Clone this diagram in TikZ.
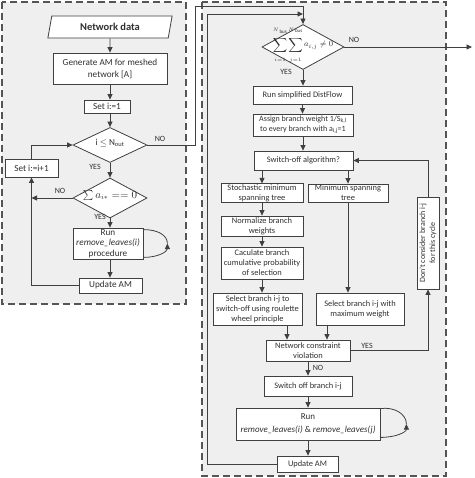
\documentclass[tikz,border=0pt]{standalone}
\usepackage{fontspec}
\setmainfont{Carlito}
\usetikzlibrary{arrows.meta,shapes.geometric,calc}
\definecolor{lnc}{HTML}{404040}
\definecolor{pan}{HTML}{EFEFEF}
\definecolor{dsh}{HTML}{555555}
\definecolor{txt}{HTML}{303030}
\newcommand{\flatbox}[1]{\smash{\makebox[0pt]{$\vcenter{\hbox{#1}}$}}}
\newcommand{\sumstack}[1]{\vcenter{\hbox{\shortstack{$\scriptscriptstyle {N\kern0.8pt}_{\mathrm{bus}}$\\[1.5pt]$\displaystyle\sum$\\[1.5pt]$\scriptscriptstyle #1=1$}}}}
\begin{document}
\begin{tikzpicture}[x=1pt,y=-1pt,
  box/.style={draw=lnc, line width=0.8pt, fill=white, align=center, inner sep=0.5pt, text=txt},
  lbox/.style={box, font=\fontsize{9.2}{12}\selectfont},
  rbox/.style={box, font=\fontsize{8.4}{10}\selectfont},
  dia/.style={diamond, draw=lnc, line width=0.8pt, fill=white, inner sep=0pt, aspect=1.8, text=txt},
  arr/.style={draw=lnc, line width=0.8pt, -{Triangle[length=5.5pt,width=5pt]}},
  lin/.style={draw=lnc, line width=0.8pt},
  lab/.style={font=\fontsize{8}{9}\selectfont, inner sep=0pt, text=txt},
  panel/.style={draw=dsh, line width=1.2pt, dash pattern=on 7pt off 4pt}
]
\useasboundingbox (0,0) rectangle (474,478);
% panels
\fill[pan] (2,2) rectangle (186,304);
\draw[panel] (2,2) rectangle (186,304);
\fill[pan] (202,2) rectangle (446,476);
\draw[panel] (202,2) rectangle (446,476);

% ---------------- left panel ----------------
\node[trapezium, trapezium left angle=75, trapezium right angle=105, trapezium stretches=true,
      minimum width=125, minimum height=22, draw=lnc, line width=0.8pt, fill=white, inner sep=0pt,
      font=\fontsize{10.5}{12}\selectfont\bfseries, text=txt] (nd) at (110,27) {Network data};
\node[lbox, minimum width=114, minimum height=31] (gen) at (110,68.5) {Generate AM for meshed\\network [A]};
\node[lbox, minimum width=46, minimum height=13] (set1) at (107,106.5) {Set i:=1};
\node[dia, minimum width=74, minimum height=35, font=\fontsize{9.2}{11}\selectfont] (d1) at (110,145) {\flatbox{i $\le$ N\textsubscript{out}}};
\node[dia, minimum width=74, minimum height=40, font=\fontsize{10.5}{11}\selectfont] (d2) at (110,198) {\flatbox{$\textstyle\sum a_{i*} == 0$}};
\node[lbox, minimum width=70, minimum height=31, font=\fontsize{9.2}{10.5}\selectfont] (run1) at (108,243.5) {Run\\\textit{remove\_leaves(i)}\\procedure};
\node[lbox, minimum width=63, minimum height=15] (upd1) at (110.5,285.5) {Update AM};
\node[lbox, minimum width=53, minimum height=18] (inc) at (31.5,168) {Set i:=i+1};

\draw[arr] (nd.south) -- (gen.north);
\draw[arr] (gen.south) -- (gen.south |- set1.north);
\draw[arr] (d1.north |- set1.south) -- (d1.north);
\draw[arr] (d1.south) -- (d2.north);
\draw[arr] (d2.south) -- (d2.south |- run1.north);
\draw[arr] (d2.south |- run1.south) -- (d2.south |- upd1.north);
\draw[arr] (upd1.west) -- (upd1.west -| inc.south) -- (inc.south);
\draw[arr] (inc.north) -- (inc.north |- d1.west) -- (d1.west);
\draw[arr] (d2.west) -- (d2.west -| inc.south);
\node[lab] at (160,139) {NO};
\node[lab] at (95,167) {YES};
\node[lab] at (60,191) {NO};
\node[lab] at (100,217) {YES};
% self loop left
\coordinate (l1a) at ($(run1.south east)+(0,-2)$);
\coordinate (l1b) at ($(run1.east)+(24,0)$);
\coordinate (l1c) at ($(run1.north east)+(0,2)$);
\draw[arr] (l1a) .. controls ($(l1a)+(15,0)$) and ($(l1b)+(0,8)$) .. (l1b);
\draw[lin] (l1b) .. controls ($(l1b)+(0,-8)$) and ($(l1c)+(15,0)$) .. (l1c);

% ---------------- right panel ----------------
\node[dia, minimum width=82, minimum height=45, font=\fontsize{8}{9}\selectfont] (dr1) at (303,47)
  {\flatbox{$\sumstack{i}\hspace{1pt}\sumstack{j}\, a_{i,j} \neq 0$}};
\node[rbox, minimum width=99, minimum height=18] (dist) at (302.5,95) {Run simplified DistFlow};
\node[rbox, minimum width=100, minimum height=22, font=\fontsize{8}{10}\selectfont] (assign) at (303,125) {Assign branch weight 1/S\textsubscript{k,l}\\to every branch with a\textsubscript{i,j}=1};
\node[rbox, minimum width=99, minimum height=19] (sw) at (303.5,160.5) {Switch-off algorithm?};
\node[rbox, minimum width=82, minimum height=18] (smst) at (262,193) {Stochastic minimum\\spanning tree};
\node[rbox, minimum width=80, minimum height=18] (mst) at (348,193) {Minimum spanning\\tree};
\node[rbox, minimum width=82, minimum height=20] (norm) at (262,226) {Normalize branch\\weights};
\node[rbox, minimum width=82, minimum height=32] (calc) at (262,263) {Caculate branch\\cumulative probability\\of selection};
\node[rbox, minimum width=89, minimum height=32] (rou) at (257.5,309) {Select branch i-j to\\switch-off using roulette\\wheel principle};
\node[rbox, minimum width=88, minimum height=32] (max) at (360,309) {Select branch i-j with\\maximum weight};
\node[rbox, minimum width=84, minimum height=21] (ncv) at (308,350.5) {Network constraint\\violation};
\node[rbox, minimum width=88, minimum height=20] (soff) at (308,386) {Switch off branch i-j};
\node[rbox, minimum width=144, minimum height=32, font=\fontsize{9}{12.5}\selectfont] (run2) at (308,424) {Run\\\textit{remove\_leaves(i)} \& \textit{remove\_leaves(j)}};
\node[rbox, minimum width=61, minimum height=16] (upd2) at (307.5,464) {Update AM};
\node[rbox, rotate=90, minimum width=92, minimum height=22, font=\fontsize{8}{10}\selectfont] (dc) at (428,243) {Don't consider branch i-j\\for this cycle};

\coordinate (exit) at (472,47);
\coordinate (c1) at (195,6);
\coordinate (c2) at (207,14);
\draw[arr] (d1.east) -- (d1.east -| c1) -- (c1) -- (c1 -| dr1.north) -- (dr1.north);
\draw[arr] (upd2.west) -- (upd2.west -| c2) -- (c2) -- (c2 -| dr1.north);
\draw[arr] (dr1.east) -- (exit);
\draw[arr] (dr1.south) -- (dr1.south |- dist.north);
\draw[arr] (dist.south) -- (dist.south |- assign.north);
\draw[arr] (assign.south) -- (assign.south |- sw.north);
\draw[arr] (sw.south -| smst.north) -- (smst.north);
\draw[arr] (sw.south -| mst.north) -- (mst.north);
\draw[arr] (smst.south) -- (norm.north);
\draw[arr] (norm.south) -- (calc.north);
\draw[arr] (calc.south) -- (calc.south |- rou.north);
\draw[arr] (mst.south) -- (mst.south |- max.north);
\coordinate (na) at ($(ncv.north)+(-21,0)$);
\coordinate (nb) at ($(ncv.north)+(19,0)$);
\draw[arr] (na |- rou.south) -- (na);
\draw[arr] (nb |- max.south) -- (nb);
\draw[arr] (ncv.east) -- (ncv.east -| dc.west) -- (dc.west);
\draw[arr] (dc.east) -- (dc.east |- sw.east) -- (sw.east);
\draw[arr] (ncv.south) -- (ncv.south |- soff.north);
\draw[arr] (soff.south) -- (soff.south |- run2.north);
\draw[arr] (run2.south) -- (run2.south |- upd2.north);
\node[lab] at (354,40) {NO};
\node[lab] at (286,72) {YES};
\node[lab] at (367,346) {YES};
\node[lab] at (318,368) {NO};
% self loop right
\coordinate (l2a) at ($(run2.south east)+(0,-3)$);
\coordinate (l2b) at ($(run2.east)+(26,0)$);
\coordinate (l2c) at ($(run2.north east)+(0,1)$);
\draw[arr] (l2a) .. controls ($(l2a)+(16,0)$) and ($(l2b)+(0,8)$) .. (l2b);
\draw[lin] (l2b) .. controls ($(l2b)+(0,-10)$) and ($(l2c)+(14,-2)$) .. (l2c);
\end{tikzpicture}
\end{document}
